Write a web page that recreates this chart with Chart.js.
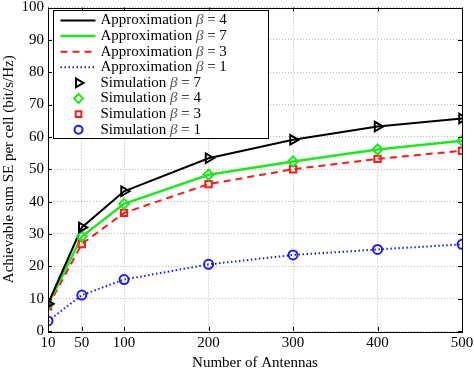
<!DOCTYPE html>
<html>
<head>
<meta charset="utf-8">
<script src="https://cdn.jsdelivr.net/npm/chart.js@4"></script>
<style>
  body { margin: 0; background: #fff; }
</style>
</head>
<body>
<canvas id="myChart" width="474" height="368"></canvas>
<script>
const ctx = document.getElementById('myChart');

// number of antennas
const antennas = [10, 50, 100, 200, 300, 400, 500];
const xTicks = [10, 50, 100, 200, 300, 400, 500];

// approximation curves
const approxBeta4 = [8.4, 32.0, 43.2, 53.4, 59.1, 63.2, 65.7];
const approxBeta7 = [8.2, 29.2, 39.3, 48.3, 52.4, 56.1, 58.8];
const approxBeta3 = [7.6, 26.9, 36.5, 45.4, 50.0, 53.2, 55.7];
const approxBeta1 = [3.1, 11.1, 15.9, 20.6, 23.5, 25.2, 26.8];

// simulation points
const simBeta7 = [8.4, 32.0, 43.2, 53.4, 59.1, 63.2, 65.7];
const simBeta4 = [8.2, 29.2, 39.3, 48.3, 52.4, 56.1, 58.8];
const simBeta3 = [7.6, 26.9, 36.5, 45.4, 50.0, 53.2, 55.7];
const simBeta1 = [3.1, 11.1, 15.9, 20.6, 23.5, 25.2, 26.8];

const serif = "'Liberation Serif', 'DejaVu Serif', serif";

function pts(vals) {
    return vals.map((v, i) => ({ x: antennas[i], y: v }));
}

function lineSet(label, vals, color, width, dash) {
    return {
        label: label, data: pts(vals), borderColor: color, backgroundColor: color,
        borderWidth: width, borderDash: dash, pointRadius: 0, tension: 0, order: 1
    };
}

function simSet(label, vals, color, style, rot, r) {
    return {
        label: label, data: pts(vals), showLine: false, borderColor: color,
        backgroundColor: 'rgba(0,0,0,0)', pointStyle: style, pointRotation: rot,
        pointRadius: r, pointBorderWidth: 2, order: 0
    };
}

// legend, frame and inward ticks drawn like matlab
const matlabLook = {
    id: 'matlabLook',
    afterDraw(chart) {
        const c = chart.ctx;
        const a = chart.chartArea;
        const xs = chart.scales.x, ys = chart.scales.y;
        c.save();
        c.strokeStyle = '#000';
        c.lineWidth = 1;
        c.setLineDash([]);
        c.beginPath();
        xTicks.forEach(t => {
            const px = Math.round(xs.getPixelForValue(t)) + 0.5;
            c.moveTo(px, a.bottom); c.lineTo(px, a.bottom - 4);
            c.moveTo(px, a.top); c.lineTo(px, a.top + 4);
        });
        for (let v = 0; v <= 100; v += 10) {
            const py = Math.round(ys.getPixelForValue(v)) + 0.5;
            c.moveTo(a.left, py); c.lineTo(a.left + 4, py);
            c.moveTo(a.right, py); c.lineTo(a.right - 4, py);
        }
        c.stroke();
        c.strokeRect(Math.round(a.left) + 0.5, Math.round(a.top) + 0.5,
            Math.round(a.right - a.left), Math.round(a.bottom - a.top));

        // legend box
        const bx = Math.round(a.left) + 5.5, by = Math.round(a.top) + 2.5;
        const bw = 215, bh = 128;
        c.fillStyle = '#fff';
        c.fillRect(bx, by, bw, bh);
        c.strokeRect(bx, by, bw, bh);

        const entries = [
            { ds: 0, text: 'Approximation ', beta: '4' },
            { ds: 1, text: 'Approximation ', beta: '7' },
            { ds: 2, text: 'Approximation ', beta: '3' },
            { ds: 3, text: 'Approximation ', beta: '1' },
            { ds: 4, text: 'Simulation ', beta: '7' },
            { ds: 5, text: 'Simulation ', beta: '4' },
            { ds: 6, text: 'Simulation ', beta: '3' },
            { ds: 7, text: 'Simulation ', beta: '1' }
        ];
        entries.forEach((e, i) => {
            const ds = chart.data.datasets[e.ds];
            const y = by + 10 + i * 15.6;
            if (ds.showLine === false) {
                c.strokeStyle = ds.borderColor;
                c.fillStyle = 'rgba(0,0,0,0)';
                c.lineWidth = ds.pointBorderWidth;
                Chart.helpers.drawPoint(c, {
                    pointStyle: ds.pointStyle, rotation: ds.pointRotation,
                    radius: ds.pointRadius - 0.5, borderWidth: ds.pointBorderWidth
                }, bx + 25, y);
            } else {
                c.strokeStyle = ds.borderColor;
                c.lineWidth = ds.borderWidth;
                c.setLineDash(ds.borderDash || []);
                c.beginPath();
                c.moveTo(bx + 7, y); c.lineTo(bx + 42, y);
                c.stroke();
                c.setLineDash([]);
            }
            c.fillStyle = '#000';
            c.textBaseline = 'middle';
            c.textAlign = 'left';
            let tx = bx + 47;
            c.font = '15px ' + serif;
            c.fillText(e.text, tx, y);
            tx += c.measureText(e.text).width;
            c.font = 'italic 15px ' + serif;
            c.fillStyle = '#555';
            c.fillText('\u03B2', tx, y);
            tx += c.measureText('\u03B2').width;
            c.font = '15px ' + serif;
            c.fillStyle = '#000';
            c.fillText(' = ' + e.beta, tx, y);
        });
        c.restore();
    }
};

Chart.defaults.font.family = serif;
Chart.defaults.font.size = 15;
Chart.defaults.color = '#000';

const gridStyle = { color: '#b8b8b8', lineWidth: 1, drawTicks: false };

new Chart(ctx, {
    type: 'line',
    data: {
        datasets: [
            lineSet('Approximation β = 4', approxBeta4, '#000000', 2, []),
            lineSet('Approximation β = 7', approxBeta7, '#1ee81e', 2.5, []),
            lineSet('Approximation β = 3', approxBeta3, '#ff1a1a', 2, [7, 5]),
            lineSet('Approximation β = 1', approxBeta1, '#1a1aff', 2, [1.5, 2.5]),
            simSet('Simulation β = 7', simBeta7, '#000000', 'triangle', 90, 5.5),
            simSet('Simulation β = 4', simBeta4, '#1ee81e', 'rectRot', 0, 5),
            simSet('Simulation β = 3', simBeta3, '#ff1a1a', 'rect', 0, 4.5),
            simSet('Simulation β = 1', simBeta1, '#1a1aff', 'circle', 0, 4.5)
        ]
    },
    options: {
        responsive: false,
        animation: false,
        devicePixelRatio: 1,
        layout: { padding: { top: 7, right: 12, left: 0, bottom: 0 } },
        plugins: { legend: { display: false }, tooltip: { enabled: false } },
        scales: {
            x: {
                type: 'linear',
                min: 10, max: 500,
                afterBuildTicks: s => { s.ticks = xTicks.map(v => ({ value: v })); },
                afterFit: s => { s.height = 37; s.paddingLeft = 0; s.paddingRight = 0; },
                grid: gridStyle,
                border: { display: false, dash: [1, 2] },
                ticks: { padding: 3, maxRotation: 0, autoSkip: false },
                title: { display: true, text: 'Number of Antennas', padding: { top: 0, bottom: -4 } }
            },
            y: {
                min: 0, max: 100,
                afterFit: s => { s.width = 48; s.paddingTop = 0; s.paddingBottom = 0; },
                grid: gridStyle,
                border: { display: false, dash: [1, 2] },
                ticks: { stepSize: 10, padding: 4 },
                title: { display: true, text: 'Achievable sum SE per cell (bit/s/Hz)', padding: { top: 0, bottom: 0 } }
            }
        }
    },
    plugins: [matlabLook]
});
</script>
</body>
</html>
